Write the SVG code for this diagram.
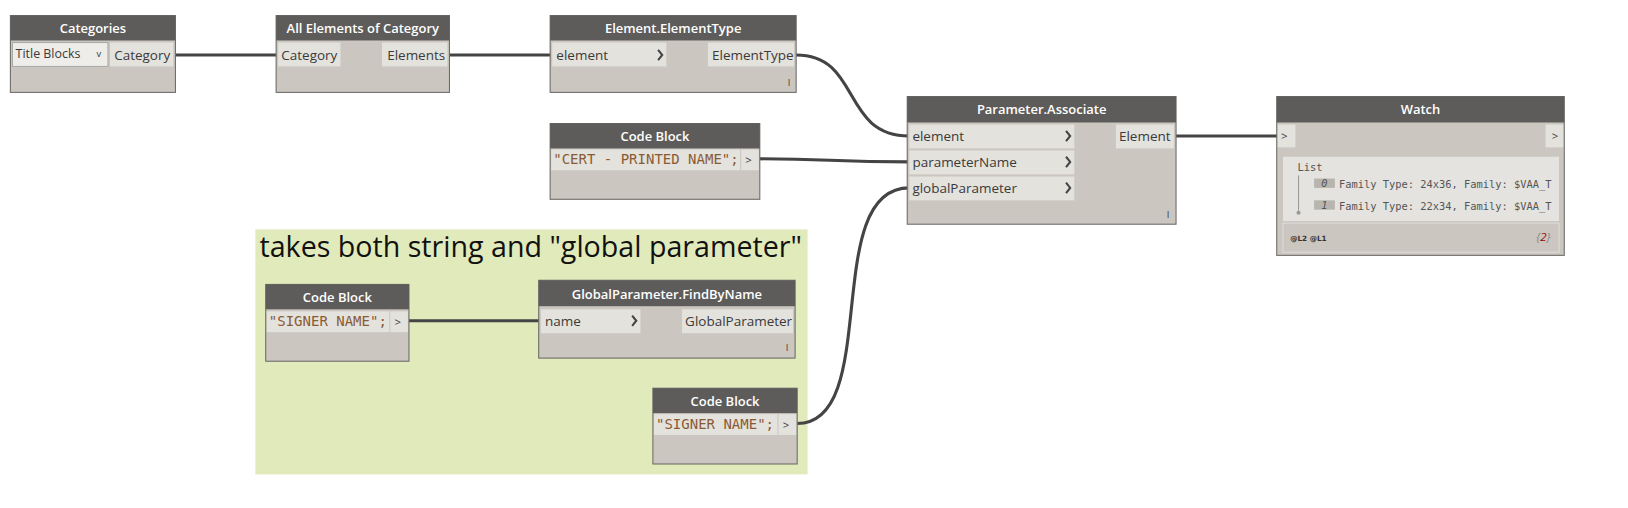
<svg xmlns="http://www.w3.org/2000/svg" width="1628" height="508" viewBox="0 0 1628 508">
<style>
.body{fill:#cbc6bf;stroke:#6a6865;stroke-width:1}
.hd{fill:#5e5c5a}
.ht{fill:#fff;font:600 12.5px "Open Sans","Noto Sans",sans-serif;text-anchor:middle}
.port{fill:#e4e2dd}
.pt{fill:#3a3a3a;font:13px "Open Sans","Noto Sans",sans-serif}
.code{fill:#8a5a34;font:13.5px "DejaVu Sans Mono",monospace}
.mono{fill:#555;font:10px "DejaVu Sans Mono",monospace}
.chev{fill:none;stroke:#444;stroke-width:2}
.wire{fill:none;stroke:#444;stroke-width:3}
</style>
<rect width="1628" height="508" fill="#fff"/>
<g transform="scale(1.038)">
<g id="group-note">
<rect x="246" y="221" width="532" height="236" fill="#e1eabb"/>
<text x="250" y="248" style="font:27.6px 'Open Sans','Noto Sans',sans-serif" fill="#111">takes both string and "global parameter"</text>
</g>
<g id="connectors">
<path class="wire" d="M169,53 L268,53"/>
<path class="wire" d="M433,53 L532,53"/>
<path class="wire" d="M767,53 C830,53 810,131 876,131"/>
<path class="wire" d="M732,153 C800,153 800,156 876,156"/>
<path class="wire" d="M768,408 C850,408 790,181 876,181"/>
<path class="wire" d="M394,309 L521,309"/>
<path class="wire" d="M1133,131 L1232,131"/>
</g>
<g id="categories">
<rect class="body" x="10" y="15" width="159" height="74"/>
<rect class="hd" x="10" y="15" width="159" height="24"/>
<text class="ht" x="89.5" y="32">Categories</text>
<rect x="12" y="41" width="92" height="23" fill="#eeede9" stroke="#aaa"/>
<text class="pt" x="15" y="56" style="font-size:12px">Title Blocks</text>
<text class="pt" x="93" y="55" style="font-size:9px">v</text>
<rect class="port" x="106" y="41" width="61" height="23"/>
<text class="pt" x="110" y="58">Category</text>
</g>
<g id="all-elements">
<rect class="body" x="266" y="15" width="167" height="74"/>
<rect class="hd" x="266" y="15" width="167" height="24"/>
<text class="ht" x="349.5" y="32">All Elements of Category</text>
<rect class="port" x="268" y="41" width="60" height="23"/>
<text class="pt" x="271" y="58">Category</text>
<rect class="port" x="368" y="41" width="63" height="23"/>
<text class="pt" x="373" y="58">Elements</text>
</g>
<g id="element-type">
<rect class="body" x="530" y="15" width="237" height="74"/>
<rect class="hd" x="530" y="15" width="237" height="24"/>
<text class="ht" x="648.5" y="32">Element.ElementType</text>
<rect class="port" x="532" y="41" width="110" height="23"/>
<text class="pt" x="536" y="58">element</text>
<path class="chev" d="M634,48 L638,53 L634,58"/>
<rect class="port" x="682" y="41" width="83" height="23"/>
<text class="pt" x="686" y="58">ElementType</text>
<text class="pt" x="759" y="83" style="font-size:9px">I</text>
</g>
<g id="code-block-1">
<rect class="body" x="530" y="119" width="202" height="73"/>
<rect class="hd" x="530" y="119" width="202" height="24"/>
<text class="ht" x="631" y="136">Code Block</text>
<rect class="port" x="531" y="144" width="182" height="20"/>
<text class="code" x="533" y="158">"CERT - PRINTED NAME";</text>
<rect class="port" x="714" y="144" width="17" height="20"/>
<text class="pt" x="718" y="158" style="font-size:11px">&gt;</text>
</g>
<g id="parameter-associate">
<rect class="body" x="874" y="93" width="259" height="123"/>
<rect class="hd" x="874" y="93" width="259" height="25"/>
<text class="ht" x="1003.5" y="110">Parameter.Associate</text>
<rect class="port" x="876" y="120" width="159" height="23"/>
<text class="pt" x="879" y="136">element</text>
<path class="chev" d="M1027,126 L1031,131 L1027,136"/>
<rect class="port" x="876" y="145" width="159" height="23"/>
<text class="pt" x="879" y="161">parameterName</text>
<path class="chev" d="M1027,151 L1031,156 L1027,161"/>
<rect class="port" x="876" y="170" width="159" height="23"/>
<text class="pt" x="879" y="186">globalParameter</text>
<path class="chev" d="M1027,176 L1031,181 L1027,186"/>
<rect class="port" x="1075" y="120" width="56" height="23"/>
<text class="pt" x="1078" y="136">Element</text>
<text class="pt" x="1124" y="210" style="font-size:9px">I</text>
</g>
<g id="watch">
<rect class="body" x="1230" y="93" width="277" height="153"/>
<rect class="hd" x="1230" y="93" width="277" height="25"/>
<text class="ht" x="1368.5" y="110">Watch</text>
<rect class="port" x="1231" y="120" width="17" height="22"/>
<text class="pt" x="1234" y="135" style="font-size:11px">&gt;</text>
<rect class="port" x="1489" y="120" width="17" height="22"/>
<text class="pt" x="1495" y="135" style="font-size:11px">&gt;</text>
<rect x="1236" y="151" width="266" height="62" fill="#e4e3df"/>
<text class="mono" x="1250" y="165">List</text>
<line x1="1251" y1="169" x2="1251" y2="203" stroke="#999"/>
<circle cx="1251" cy="205" r="2" fill="#999"/>
<rect x="1266" y="172" width="20" height="9" fill="#b8b5af"/>
<text class="mono" x="1273" y="180" style="font-style:italic">0</text>
<text class="mono" x="1290" y="181">Family Type: 24x36, Family: $VAA_T</text>
<rect x="1266" y="193" width="20" height="9" fill="#b8b5af"/>
<text class="mono" x="1273" y="201" style="font-style:italic">1</text>
<text class="mono" x="1290" y="202">Family Type: 22x34, Family: $VAA_T</text>
<rect x="1236" y="215" width="266" height="28" fill="none" stroke="#ddd"/>
<text x="1243" y="232" style="font:bold 7px 'DejaVu Sans',sans-serif" fill="#333">@L2 @L1</text>
<text x="1480" y="232" style="font:italic 11px 'Open Sans',sans-serif" fill="#888">{<tspan fill="#a00000">2</tspan>}</text>
</g>
<g id="code-block-2">
<rect class="body" x="256" y="274" width="138" height="74"/>
<rect class="hd" x="256" y="274" width="138" height="24"/>
<text class="ht" x="325" y="291">Code Block</text>
<rect class="port" x="257" y="300" width="118" height="20"/>
<text class="code" x="259" y="314">"SIGNER NAME";</text>
<rect class="port" x="376" y="300" width="17" height="20"/>
<text class="pt" x="380" y="314" style="font-size:11px">&gt;</text>
</g>
<g id="global-parameter-find">
<rect class="body" x="519" y="270" width="247" height="75"/>
<rect class="hd" x="519" y="270" width="247" height="25"/>
<text class="ht" x="642.5" y="288">GlobalParameter.FindByName</text>
<rect class="port" x="521" y="298" width="96" height="23"/>
<text class="pt" x="525" y="314">name</text>
<path class="chev" d="M609,304 L613,309 L609,314"/>
<rect class="port" x="657" y="298" width="107" height="23"/>
<text class="pt" x="660" y="314">GlobalParameter</text>
<text class="pt" x="757" y="338" style="font-size:9px">I</text>
</g>
<g id="code-block-3">
<rect class="body" x="629" y="374" width="139" height="73"/>
<rect class="hd" x="629" y="374" width="139" height="24"/>
<text class="ht" x="698.5" y="391">Code Block</text>
<rect class="port" x="630" y="399" width="119" height="20"/>
<text class="code" x="632" y="413">"SIGNER NAME";</text>
<rect class="port" x="750" y="399" width="17" height="20"/>
<text class="pt" x="754" y="413" style="font-size:11px">&gt;</text>
</g>
</g>
</svg>
